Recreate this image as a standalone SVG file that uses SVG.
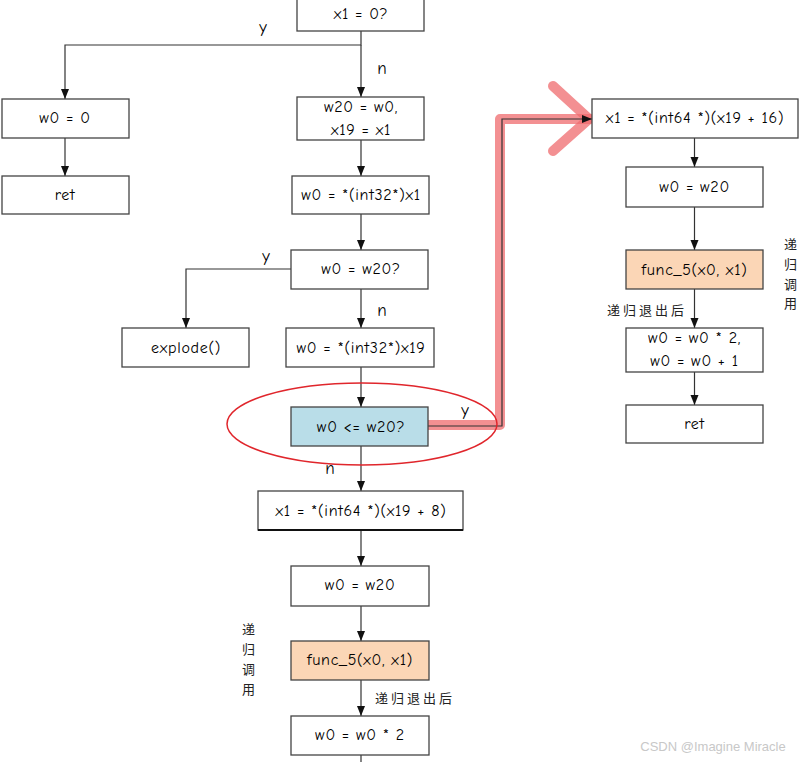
<svg xmlns="http://www.w3.org/2000/svg" width="810" height="762" viewBox="0 0 810 762">
<style>
.box{fill:#fff;stroke:#444;stroke-width:1.3}
.blue{fill:#b9dde8}
.orange{fill:#fbd6b6}
.t{font-family:"Comic Neue","Liberation Sans","DejaVu Sans",sans-serif;font-size:16px;letter-spacing:0.7px;fill:#000;text-anchor:middle;dominant-baseline:central}
.lbl{font-family:"Comic Neue","Liberation Sans","DejaVu Sans",sans-serif;font-size:17px;fill:#000;text-anchor:middle;dominant-baseline:central}
.cn{font-family:"Noto Sans CJK SC",sans-serif;font-size:13px;letter-spacing:3px;fill:#222;text-anchor:middle;dominant-baseline:central}
.ln{fill:none;stroke:#333;stroke-width:1.2}
</style>
<defs>
<marker id="ah" viewBox="0 0 10 10" refX="10" refY="5" markerWidth="10" markerHeight="10" markerUnits="userSpaceOnUse" orient="auto">
<path d="M0,1 L10,5 L0,9 Z" fill="#111"/>
</marker>
</defs>
<rect width="810" height="762" fill="#fff"/>
<g id="connectors">
<path class="ln" d="M361,31 V45 H65 V99" marker-end="url(#ah)"/>
<path class="ln" d="M361,45 V97" marker-end="url(#ah)"/>
<path class="ln" d="M65,138 V176" marker-end="url(#ah)"/>
<path class="ln" d="M361,140 V176" marker-end="url(#ah)"/>
<path class="ln" d="M361,214 V250" marker-end="url(#ah)"/>
<path class="ln" d="M291,269 H186 V328" marker-end="url(#ah)"/>
<path class="ln" d="M361,289 V328" marker-end="url(#ah)"/>
<path class="ln" d="M361,367 V407" marker-end="url(#ah)"/>
<path class="ln" d="M361,446 V491" marker-end="url(#ah)"/>
<path class="ln" d="M361,530 V566" marker-end="url(#ah)"/>
<path class="ln" d="M361,606 V641" marker-end="url(#ah)"/>
<path class="ln" d="M361,680 V716" marker-end="url(#ah)"/>
<path class="ln" d="M361,755 V762"/>
<path class="ln" d="M694.5,138 V167" marker-end="url(#ah)"/>
<path class="ln" d="M694.5,207 V250" marker-end="url(#ah)"/>
<path class="ln" d="M694.5,289 V328" marker-end="url(#ah)"/>
<path class="ln" d="M694.5,372 V405" marker-end="url(#ah)"/>
<path d="M428,425 H500 V119 H590" fill="none" stroke="#ef6b6e" stroke-opacity="0.75" stroke-width="10" stroke-linejoin="round" stroke-linecap="round"/>
<path d="M553,86 L589,119 L553,151" fill="none" stroke="#ef6b6e" stroke-opacity="0.75" stroke-width="10" stroke-linejoin="round" stroke-linecap="round"/>
<path class="ln" d="M428,426 H502 V119 H592" marker-end="url(#ah)"/>
<text class="lbl" x="263" y="27">y</text>
<text class="lbl" x="382" y="68">n</text>
<text class="lbl" x="266" y="256">y</text>
<text class="lbl" x="382" y="310">n</text>
<text class="lbl" x="465" y="410">y</text>
<text class="lbl" x="330" y="468">n</text>
</g>
<g id="n_x1eq0"><rect class="box" x="297" y="-10" width="127" height="41"/><text class="t" x="361" y="14">x1 = 0?</text></g>
<g id="n_w0eq0"><rect class="box" x="2" y="99" width="127" height="39"/><text class="t" x="65" y="118">w0 = 0</text></g>
<g id="n_ret1"><rect class="box" x="2" y="176" width="127" height="38"/><text class="t" x="65" y="195">ret</text></g>
<g id="n_w20"><rect class="box" x="297" y="97" width="127" height="43"/><text class="t" x="361" y="107">w20 = w0,</text><text class="t" x="361" y="130">x19 = x1</text></g>
<g id="n_load1"><rect class="box" x="292" y="176" width="137" height="38"/><text class="t" x="361" y="195">w0 = *(int32*)x1</text></g>
<g id="n_cmp1"><rect class="box" x="291" y="250" width="137" height="39"/><text class="t" x="361" y="269">w0 = w20?</text></g>
<g id="n_explode"><rect class="box" x="122" y="328" width="127" height="39"/><text class="t" x="186" y="348">explode()</text></g>
<g id="n_load2"><rect class="box" x="286" y="328" width="148" height="39"/><text class="t" x="361" y="348">w0 = *(int32*)x19</text></g>
<g id="n_cmp2"><rect class="box blue" x="291" y="407" width="137" height="39"/><text class="t" x="361" y="427">w0 &lt;= w20?</text>
<ellipse cx="362" cy="424" rx="135" ry="41" fill="none" stroke="#e0262c" stroke-width="1.5"/></g>
<g id="n_load3"><rect class="box" x="258" y="491" width="205" height="39"/><line x1="258" y1="530" x2="463" y2="530" stroke="#111" stroke-width="2"/><text class="t" x="361" y="511">x1 = *(int64 *)(x19 + 8)</text></g>
<g id="n_mov1"><rect class="box" x="291" y="566" width="138" height="40"/><text class="t" x="360" y="585">w0 = w20</text></g>
<g id="n_call1"><rect class="box orange" x="291" y="641" width="138" height="39"/><text class="t" x="360" y="660">func_5(x0, x1)</text></g>
<g id="n_mul1"><rect class="box" x="291" y="716" width="138" height="39"/><text class="t" x="360" y="735">w0 = w0 * 2</text></g>
<g id="n_load4"><rect class="box" x="592" y="99" width="206" height="39"/><text class="t" x="695" y="118">x1 = *(int64 *)(x19 + 16)</text></g>
<g id="n_mov2"><rect class="box" x="626" y="167" width="137" height="40"/><text class="t" x="694.5" y="187">w0 = w20</text></g>
<g id="n_call2"><rect class="box orange" x="626" y="250" width="137" height="39"/><text class="t" x="694.5" y="270">func_5(x0, x1)</text></g>
<g id="n_mul2"><rect class="box" x="626" y="328" width="137" height="44"/><text class="t" x="694.5" y="338">w0 = w0 * 2,</text><text class="t" x="694.5" y="361">w0 = w0 + 1</text></g>
<g id="n_ret2"><rect class="box" x="626" y="405" width="137" height="38"/><text class="t" x="694.5" y="424">ret</text></g>
<g id="labels">
<text class="cn" x="792" y="243">递</text><text class="cn" x="792" y="263">归</text><text class="cn" x="792" y="283">调</text><text class="cn" x="792" y="302">用</text>
<text class="cn" x="647" y="309">递归退出后</text>
<text class="cn" x="250" y="628">递</text><text class="cn" x="250" y="648">归</text><text class="cn" x="250" y="668">调</text><text class="cn" x="250" y="688">用</text>
<text class="cn" x="415" y="697">递归退出后</text>
<text x="713" y="746" font-family="Liberation Sans,sans-serif" font-size="13" fill="#c8c8c8" text-anchor="middle" dominant-baseline="central">CSDN @Imagine  Miracle</text>
</g>
</svg>
